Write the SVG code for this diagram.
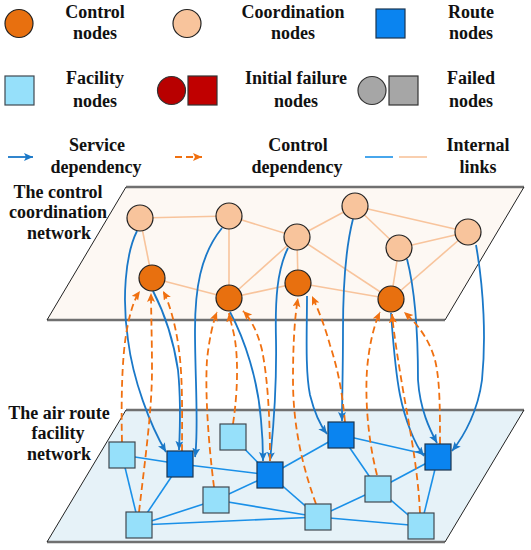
<svg xmlns="http://www.w3.org/2000/svg" width="531" height="550" viewBox="0 0 531 550">
<style>
text{font-family:"Liberation Serif","Times New Roman",serif;font-weight:bold;font-size:18px;fill:#111;text-anchor:middle}
.ctl{fill:#e8700f;stroke:#222;stroke-width:1.2}
.crd{fill:#f8c49c;stroke:#222;stroke-width:1.2}
.rte{fill:#0a84f0;stroke:#1a3550;stroke-width:1.2}
.fac{fill:#96e0fa;stroke:#404850;stroke-width:1.2}
.il{stroke:#f8c49c;stroke-width:1.6;fill:none}
.ll{stroke:#1a90e8;stroke-width:1.6;fill:none}
.sd{stroke:#1a78c8;stroke-width:1.8;fill:none;marker-end:url(#ab)}
.cd{stroke:#f07010;stroke-width:1.8;fill:none;stroke-dasharray:7,4;marker-end:url(#ao)}
.edge{stroke:#707070;stroke-width:2.5}
.side{stroke:#222;stroke-width:1}
</style>
<defs>
<marker id="ab" markerUnits="userSpaceOnUse" markerWidth="10" markerHeight="10" refX="9" refY="4" orient="auto"><path d="M0,0 L9,4 L0,8 L2,4 Z" fill="#1a78c8"/></marker>
<marker id="ao" markerUnits="userSpaceOnUse" markerWidth="10" markerHeight="10" refX="9" refY="4" orient="auto"><path d="M0,0 L9,4 L0,8 L2,4 Z" fill="#f07010"/></marker>
</defs>
<rect width="531" height="550" fill="#fff"/>
<g id="legend">
<circle class="ctl" cx="19" cy="23.5" r="14"/>
<text x="95" y="18">Control</text><text x="95" y="39">nodes</text>
<circle class="crd" cx="187" cy="23.5" r="14"/>
<text x="293" y="18">Coordination</text><text x="293" y="39">nodes</text>
<rect class="rte" x="376" y="9" width="29" height="29"/>
<text x="471" y="18">Route</text><text x="471" y="39">nodes</text>
<rect class="fac" x="5" y="76" width="29" height="29"/>
<text x="95" y="84">Facility</text><text x="95" y="107">nodes</text>
<circle cx="171.5" cy="90.5" r="14" fill="#b80000" stroke="#333" stroke-width="1.2"/>
<rect x="188" y="76" width="29" height="29" fill="#c00000" stroke="#333" stroke-width="1.2"/>
<text x="296" y="84">Initial failure</text><text x="296" y="107">nodes</text>
<circle cx="372" cy="90.5" r="14" fill="#a6a6a6" stroke="#333" stroke-width="1.2"/>
<rect x="389" y="76" width="29" height="29" fill="#a6a6a6" stroke="#333" stroke-width="1.2"/>
<text x="471" y="84">Failed</text><text x="471" y="107">nodes</text>
<line x1="8" y1="157" x2="33" y2="157" class="sd"/>
<text x="97" y="151">Service</text><text x="96" y="173">dependency</text>
<line x1="175" y1="157" x2="202" y2="157" class="cd"/>
<text x="298" y="151">Control</text><text x="297" y="173">dependency</text>
<line x1="365" y1="157" x2="393" y2="157" class="ll"/>
<line x1="399" y1="157" x2="427" y2="157" class="il"/>
<text x="478" y="151">Internal</text><text x="478" y="173">links</text>
</g>
<g id="upper-plane">
<polygon points="126,187 524,187 445,320 47,320" fill="#fdf8f3"/>
<line class="edge" x1="126" y1="187" x2="524" y2="187"/>
<line class="edge" x1="47" y1="320" x2="445" y2="320"/>
<line class="side" x1="126" y1="187" x2="47" y2="320"/>
<line class="side" x1="524" y1="187" x2="445" y2="320"/>
<text x="58" y="198">The control</text><text x="58" y="218">coordination</text><text x="59" y="239">network</text>
</g>
<g id="lower-plane">
<polygon points="126,410 524,410 445,542 47,542" fill="#e6f2f8"/>
<line class="edge" x1="126" y1="410" x2="524" y2="410"/>
<line class="edge" x1="47" y1="542" x2="445" y2="542"/>
<line class="side" x1="126" y1="410" x2="47" y2="542"/>
<line class="side" x1="524" y1="410" x2="445" y2="542"/>
<text x="59" y="419">The air route</text><text x="58" y="439">facility</text><text x="59" y="460">network</text>
</g>
<g id="connectors">
<g id="internal-upper">
<line class="il" x1="140" y1="218" x2="229" y2="216"/>
<line class="il" x1="140" y1="218" x2="152" y2="278"/>
<line class="il" x1="229" y1="216" x2="229" y2="298"/>
<line class="il" x1="229" y1="216" x2="297" y2="237"/>
<line class="il" x1="152" y1="278" x2="229" y2="298"/>
<line class="il" x1="229" y1="298" x2="297" y2="237"/>
<line class="il" x1="229" y1="298" x2="298" y2="283"/>
<line class="il" x1="297" y1="237" x2="355" y2="206"/>
<line class="il" x1="297" y1="237" x2="298" y2="283"/>
<line class="il" x1="297" y1="237" x2="391" y2="299"/>
<line class="il" x1="298" y1="283" x2="391" y2="299"/>
<line class="il" x1="355" y1="206" x2="468" y2="232"/>
<line class="il" x1="355" y1="206" x2="399" y2="248"/>
<line class="il" x1="399" y1="248" x2="468" y2="232"/>
<line class="il" x1="399" y1="248" x2="391" y2="299"/>
<line class="il" x1="391" y1="299" x2="468" y2="232"/>
</g>
<g id="internal-lower">
<line class="ll" x1="122" y1="455" x2="180" y2="464"/>
<line class="ll" x1="122" y1="455" x2="139" y2="525"/>
<line class="ll" x1="180" y1="464" x2="139" y2="525"/>
<line class="ll" x1="180" y1="464" x2="270" y2="475"/>
<line class="ll" x1="139" y1="525" x2="216" y2="500"/>
<line class="ll" x1="139" y1="525" x2="318" y2="517"/>
<line class="ll" x1="233" y1="437" x2="270" y2="475"/>
<line class="ll" x1="216" y1="500" x2="270" y2="475"/>
<line class="ll" x1="216" y1="500" x2="318" y2="517"/>
<line class="ll" x1="270" y1="475" x2="341" y2="435"/>
<line class="ll" x1="270" y1="475" x2="318" y2="517"/>
<line class="ll" x1="341" y1="435" x2="438" y2="457"/>
<line class="ll" x1="341" y1="435" x2="378" y2="489"/>
<line class="ll" x1="378" y1="489" x2="438" y2="457"/>
<line class="ll" x1="318" y1="517" x2="378" y2="489"/>
<line class="ll" x1="318" y1="517" x2="421" y2="526"/>
<line class="ll" x1="378" y1="489" x2="421" y2="526"/>
<line class="ll" x1="438" y1="457" x2="421" y2="526"/>
</g>
<g id="service-dependency">
<path class="sd" d="M137,231 C125,255 122,300 128,340 C133,380 150,425 166,452"/>
<path class="sd" d="M153,291 C168,320 175,350 178,370 C181,400 180,430 179,450"/>
<path class="sd" d="M222,228 C200,255 195,290 195,330 C195,380 199,430 195,457"/>
<path class="sd" d="M230,312 C245,340 258,380 261,420 C263,440 263,450 263,461"/>
<path class="sd" d="M288,248 C277,270 275,300 276,340 C277,400 272,440 270,461"/>
<path class="sd" d="M353,219 C345,250 343,290 343,330 C343,370 342,400 342,421"/>
<path class="sd" d="M307,296 C307,330 305,370 310,395 C315,415 320,425 327,434"/>
<path class="sd" d="M391,313 C393,340 395,370 400,395 C405,420 415,445 424,456"/>
<path class="sd" d="M407,259 C415,290 418,340 418,380 C420,410 430,430 437,443"/>
<path class="sd" d="M476,245 C484,290 486,340 482,380 C478,410 465,435 452,451"/>
</g>
<g id="control-dependency">
<path class="cd" d="M122,442 C121,400 122,360 126,335 C130,310 135,298 140,291"/>
<path class="cd" d="M139,512 C145,460 152,410 152,370 C152,340 151,310 151,293"/>
<path class="cd" d="M182,451 C182,420 183,380 179,350 C175,320 168,300 163,291"/>
<path class="cd" d="M214,487 C208,440 205,390 207,360 C209,340 213,322 217,312"/>
<path class="cd" d="M233,424 C238,390 238,360 235,340 C233,328 230,320 229,313"/>
<path class="cd" d="M270,461 C270,420 268,380 262,350 C257,330 250,318 243,311"/>
<path class="cd" d="M316,504 C300,460 293,420 293,380 C293,340 295,315 298,298"/>
<path class="cd" d="M345,422 C342,390 338,370 330,345 C323,320 316,305 312,296"/>
<path class="cd" d="M377,475 C368,440 365,400 367,370 C369,345 374,325 380,312"/>
<path class="cd" d="M420,513 C418,470 410,430 403,390 C398,360 394,335 392,314"/>
<path class="cd" d="M440,444 C440,410 440,380 435,360 C428,335 413,320 404,312"/>
</g>
</g>
<g id="C1"><circle class="crd" cx="140" cy="218" r="13"/></g>
<g id="C2"><circle class="crd" cx="229" cy="216" r="13"/></g>
<g id="C3"><circle class="crd" cx="355" cy="206" r="13"/></g>
<g id="C4"><circle class="crd" cx="297" cy="237" r="13"/></g>
<g id="C5"><circle class="crd" cx="399" cy="248" r="13"/></g>
<g id="C6"><circle class="crd" cx="468" cy="232" r="13"/></g>
<g id="O1"><circle class="ctl" cx="152" cy="278" r="13"/></g>
<g id="O2"><circle class="ctl" cx="229" cy="298" r="13"/></g>
<g id="O3"><circle class="ctl" cx="298" cy="283" r="13"/></g>
<g id="O4"><circle class="ctl" cx="391" cy="299" r="13"/></g>
<g id="R1"><rect class="rte" x="167" y="451" width="26" height="26"/></g>
<g id="R2"><rect class="rte" x="257" y="462" width="26" height="26"/></g>
<g id="R3"><rect class="rte" x="328" y="422" width="26" height="26"/></g>
<g id="R4"><rect class="rte" x="425" y="444" width="26" height="26"/></g>
<g id="F1"><rect class="fac" x="109" y="442" width="26" height="26"/></g>
<g id="F2"><rect class="fac" x="126" y="512" width="26" height="26"/></g>
<g id="F3"><rect class="fac" x="220" y="424" width="26" height="26"/></g>
<g id="F4"><rect class="fac" x="203" y="487" width="26" height="26"/></g>
<g id="F5"><rect class="fac" x="305" y="504" width="26" height="26"/></g>
<g id="F6"><rect class="fac" x="365" y="476" width="26" height="26"/></g>
<g id="F7"><rect class="fac" x="408" y="513" width="26" height="26"/></g>
</svg>
